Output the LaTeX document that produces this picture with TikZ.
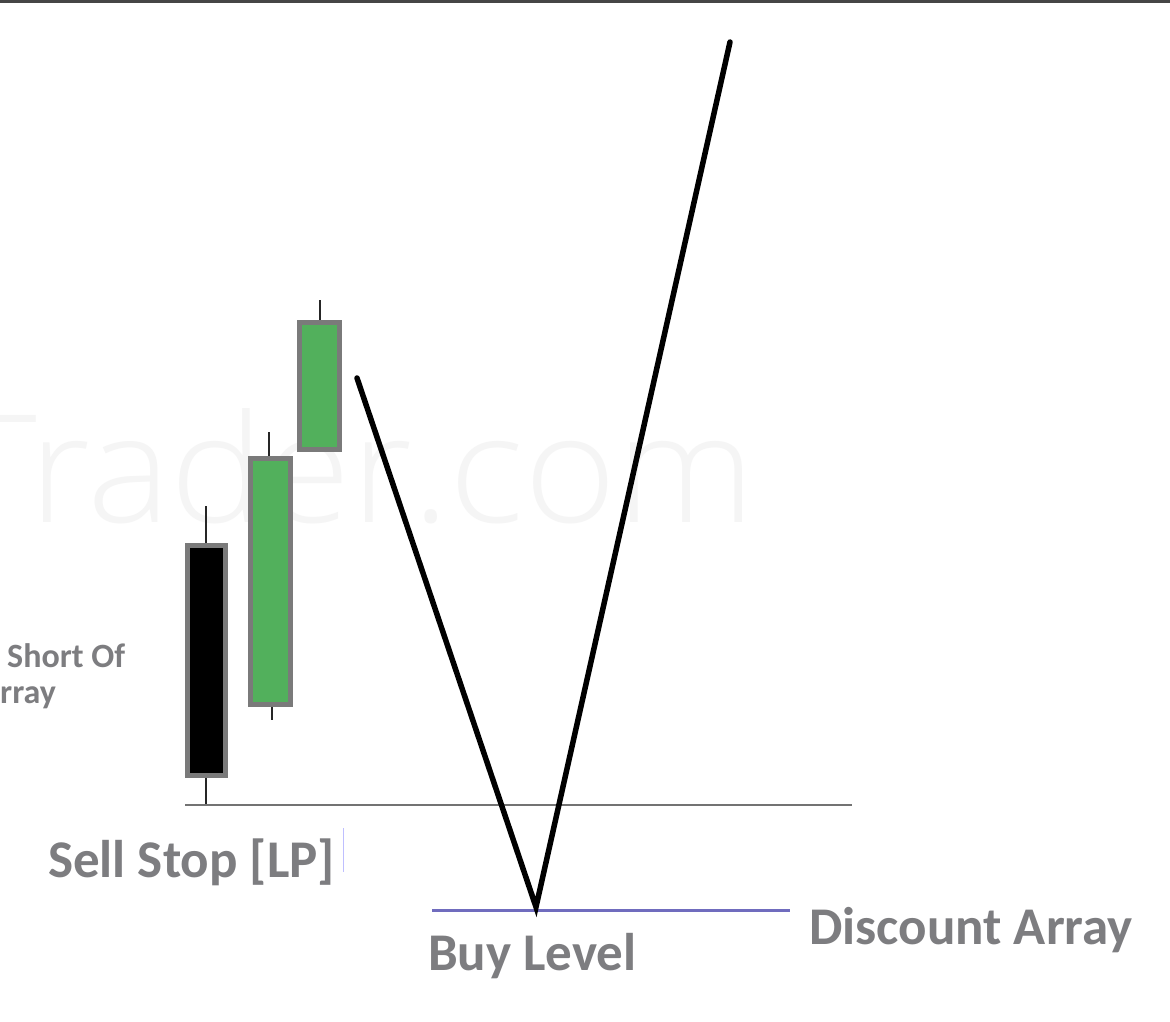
\documentclass[tikz,border=0pt]{standalone}
\usepackage{fontspec}
\setmainfont{Carlito}
\newfontfamily\wmfont{Open Sans Light}
\definecolor{candlegreen}{RGB}{82,176,92}
\definecolor{candleedge}{RGB}{122,122,122}
\definecolor{labelgray}{RGB}{125,125,128}
\definecolor{buyblue}{RGB}{112,108,190}
\definecolor{framegray}{RGB}{70,70,70}
\tikzset{
  candlebody/.style={draw=candleedge, line width=5pt},
  wick/.style={draw=black!85, line width=2pt},
  price/.style={draw=black, line width=5.5pt, line cap=round, line join=miter},
  lbl/.style={text=labelgray, inner sep=0pt, anchor=base west},
}
\begin{document}
\begin{tikzpicture}[x=1pt,y=-1pt]
\useasboundingbox (0,0) rectangle (1170,1022);
\fill[white] (0,0) rectangle (1170,1022);
% top frame line
\fill[framegray] (0,0) rectangle (1170,3);
% watermark
\node[inner sep=0pt, anchor=base east, text=black!4, xscale=1.05, font=\wmfont\fontsize{150}{150}\selectfont] (wm) at (756,522) {Trader.com};
% candles
\draw[wick] (206,506) coordinate (c1t) -- (206,545);
\draw[wick] (206,776) -- (206,805) coordinate (c1b);
\path[candlebody, fill=black] (187.5,545.5) rectangle (225.5,775.5);
\draw[wick] (269,432) coordinate (c2t) -- (269,458);
\draw[wick] (272,704) -- (272,720) coordinate (c2b);
\path[candlebody, fill=candlegreen] (250.5,458.5) rectangle (290.5,704.5);
\draw[wick] (320,300) coordinate (c3t) -- (320,322);
\path[candlebody, fill=candlegreen] (299.5,322.5) rectangle (339.5,449.5);
% sell stop level line
\coordinate (ssl) at (185,805);
\coordinate (ssr) at (852,805);
\draw[draw=black!55, line width=2pt] (ssl) -- (ssr);
% buy level line
\coordinate (bll) at (432,910);
\coordinate (blr) at (790,910);
\draw[draw=buyblue, line width=3pt] (bll) -- (blr);
% price path
\coordinate (p1) at (357,378);
\coordinate (p2) at (536,907);
\coordinate (p3) at (730,42);
\draw[price] (p1) -- (p2) -- (p3);
% labels
\node[lbl, font=\bfseries\fontsize{34}{40}\selectfont] (short) at (7,667) {Short Of};
\node[lbl, font=\bfseries\fontsize{34}{40}\selectfont] (rray) at (0,703) {rray};
\node[lbl, font=\bfseries\fontsize{53}{60}\selectfont] (sell) at (48,877) {Sell Stop [LP]};
\draw[draw=blue!25, line width=1pt] (343,828) coordinate (cur1) -- (343,872) coordinate (cur2);
\node[lbl, font=\bfseries\fontsize{53}{60}\selectfont] (buy) at (428,970) {Buy Level};
\node[lbl, font=\bfseries\fontsize{53}{60}\selectfont] (disc) at (809,944) {Discount Array};
\end{tikzpicture}
\end{document}
